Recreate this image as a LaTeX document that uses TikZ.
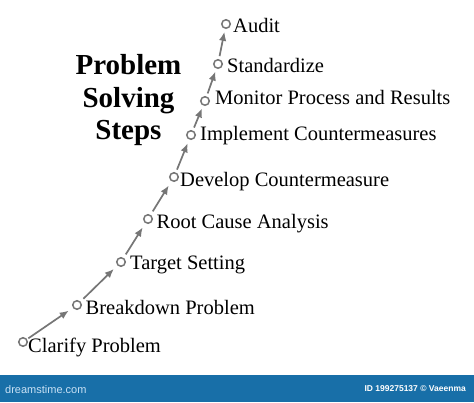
\documentclass[tikz,border=0pt]{standalone}
\usepackage{fontspec}
\setmainfont{Liberation Serif}
\newfontfamily\footfont{Liberation Sans}
\usetikzlibrary{arrows.meta}
\definecolor{stepgray}{RGB}{118,118,118}
\definecolor{barblue}{RGB}{24,111,168}
\definecolor{barText}{RGB}{200,225,245}
\tikzset{
  stepdot/.style={circle, draw=stepgray, line width=1.5pt, fill=white, minimum size=8.5pt, inner sep=0pt},
  steplabel/.style={anchor=base west, inner sep=0pt, font=\fontsize{20.5}{24}\selectfont},
  titleline/.style={anchor=base, inner sep=0pt, font=\fontsize{29}{32}\selectfont\bfseries},
  steparrow/.style={draw=stepgray, line width=1.7pt, -{Latex[length=9pt,width=7.5pt]}, shorten <=4pt, shorten >=5pt}
}
\begin{document}
\begin{tikzpicture}[x=1pt,y=1pt]
\useasboundingbox (0,0) rectangle (474,402);
\fill[white] (0,0) rectangle (474,402);
% footer bar
\fill[barblue] (0,0) rectangle (474,27.5);
\node[anchor=west, inner sep=0pt, text=barText, font=\footfont\fontsize{11}{12}\selectfont] (foot1) at (5,12) {dreamstime.com};
\node[anchor=east, inner sep=0pt, text=white, font=\footfont\bfseries\fontsize{8.5}{10}\selectfont] (foot2) at (466,13) {ID 199275137 \textcopyright{} Vaeenma};
% title
\node[titleline] (t1) at (128.5,327) {Problem};
\node[titleline] (t2) at (128.5,294) {Solving};
\node[titleline] (t3) at (128.5,262) {Steps};
% dots
\node[stepdot] (c1) at (23,60) {};
\node[stepdot] (c2) at (77,97) {};
\node[stepdot] (c3) at (121,140) {};
\node[stepdot] (c4) at (148,183) {};
\node[stepdot] (c5) at (174,225) {};
\node[stepdot] (c6) at (191,267) {};
\node[stepdot] (c7) at (205,301) {};
\node[stepdot] (c8) at (218,338) {};
\node[stepdot] (c9) at (226,378) {};
% labels
\node[steplabel] (l1) at (28,50) {Clarify Problem};
\node[steplabel] (l2) at (85.5,88) {Breakdown Problem};
\node[steplabel] (l3) at (130,132) {Target Setting};
\node[steplabel] (l4) at (156.5,173.5) {Root Cause Analysis};
\node[steplabel] (l5) at (180,215) {Develop Countermeasure};
\node[steplabel] (l6) at (200,261) {Implement Countermeasures};
\node[steplabel] (l7) at (215,297) {Monitor Process and Results};
\node[steplabel] (l8) at (227,329.5) {Standardize};
\node[steplabel] (l9) at (233,369.5) {Audit};
% arrows
\draw[steparrow, shorten <=1.5pt] (c1) -- (c2);
\draw[steparrow] (c2) -- (c3);
\draw[steparrow] (c3) -- (c4);
\draw[steparrow] (c4) -- (c5);
\draw[steparrow, shorten >=4pt, shorten <=3pt] (c5) -- (c6);
\draw[steparrow, shorten >=3pt, shorten <=3pt] (c6) -- (c7);
\draw[steparrow, shorten >=3pt, shorten <=3pt] (c7) -- (c8);
\draw[steparrow, shorten >=3pt, shorten <=3pt] (c8) -- (c9);
\end{tikzpicture}
\end{document}
